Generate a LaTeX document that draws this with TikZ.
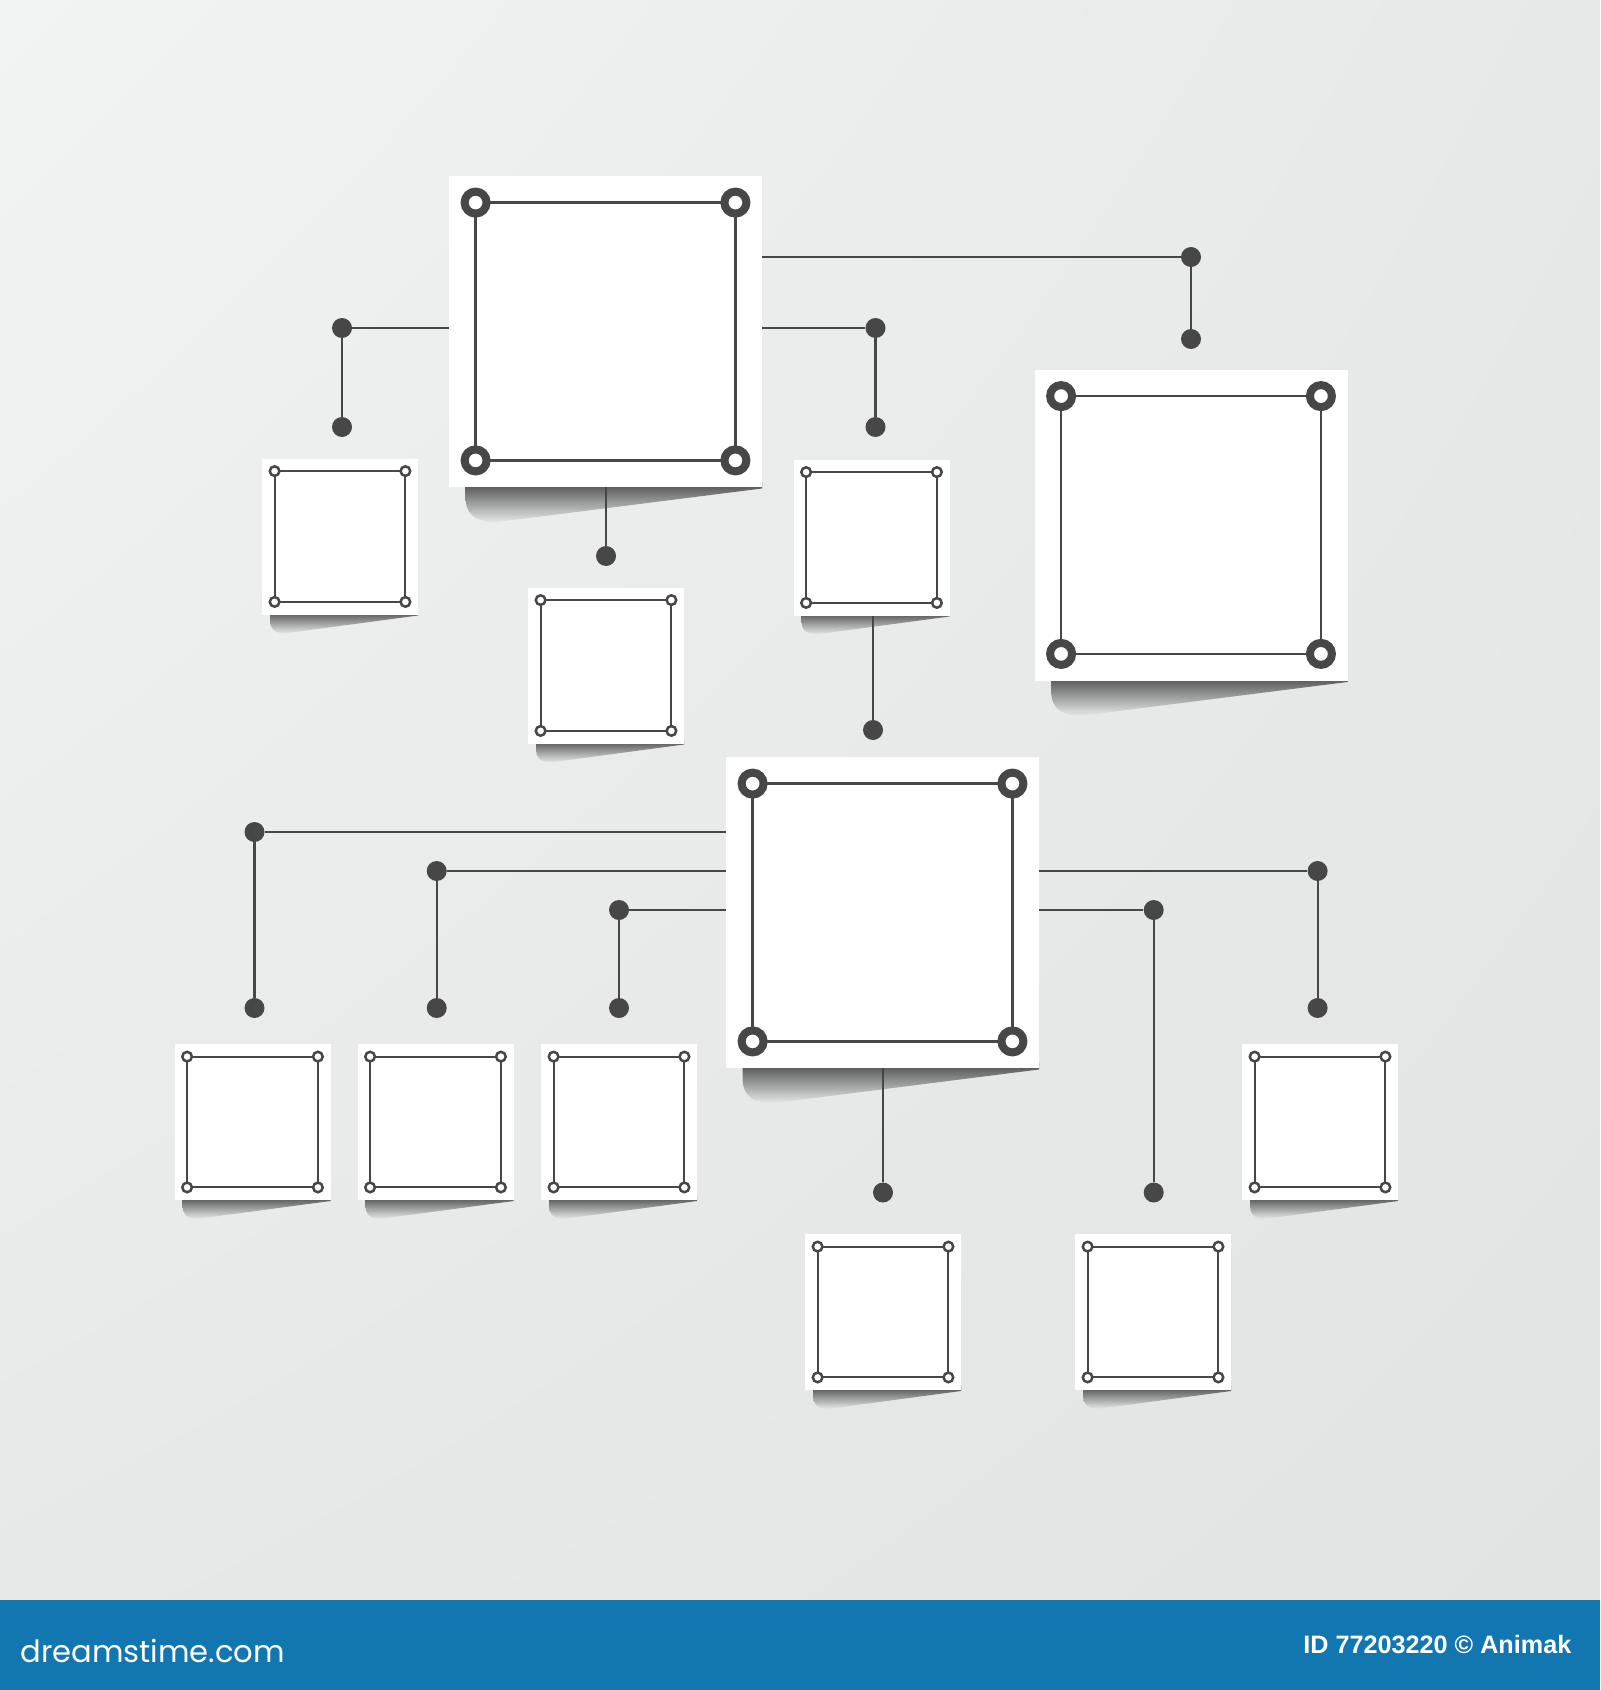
\documentclass[tikz,border=0pt]{standalone}
\usepackage{fontspec}
\usetikzlibrary{shadings}
\newfontfamily\barfont{Liberation Sans}
\newfontfamily\logofont{Poppins}
\definecolor{ink}{HTML}{474747}
\definecolor{bgA}{HTML}{F2F3F3}
\definecolor{bgB}{HTML}{E7E9E9}
\definecolor{bgC}{HTML}{E2E4E4}
\definecolor{shdc}{HTML}{4A4A4A}
\definecolor{barc}{HTML}{1277B0}
\tikzset{
  bigbox/.style={rectangle, fill=white, minimum width=156.5pt, minimum height=155.5pt, inner sep=0pt},
  smallbox/.style={rectangle, fill=white, minimum width=78pt, minimum height=78pt, inner sep=0pt},
  bigframe/.style={draw=ink, line width=1.2pt},
  smallframe/.style={draw=ink, line width=1pt},
  bigring/.style={draw=ink, fill=white, line width=4pt},
  smallring/.style={draw=ink, fill=white, line width=1.25pt},
  dot/.style={circle, fill=ink, inner sep=0pt, minimum size=10pt},
  conn/.style={draw=ink, line width=1.1pt},
}
\newcommand\BigBox[3]{%
  \begin{scope}[shift={(#2,#3)}]
    \shade[top color=shdc, bottom color=bgB] (-140,150) -- (156.5,150) -- (156.5,157) -- (-112,191) .. controls (-134,189) and (-140,180) .. (-140,165) -- cycle;
  \end{scope}
  \node[bigbox] (#1) at (#2,#3) {};
  \draw[bigframe] ([shift={(27,27)}]#1.north west) rectangle ([shift={(-27,-27)}]#1.south east);
  \foreach \a/\sx/\sy in {north west/27/27, north east/-27/27, south west/27/-27, south east/-27/-27}
    \draw[bigring] ([shift={(\sx,\sy)}]#1.\a) circle[radius=5.5pt];
}
\newcommand\SmallBox[3]{%
  \begin{scope}[shift={(#2,#3)}]
    \shade[top color=shdc, bottom color=bgB] (-70,74) -- (78,74) -- (78,79) -- (-56,97) .. controls (-67,96) and (-70,91) .. (-70,84) -- cycle;
  \end{scope}
  \node[smallbox] (#1) at (#2,#3) {};
  \draw[smallframe] ([shift={(13,13)}]#1.north west) rectangle ([shift={(-13,-13)}]#1.south east);
  \foreach \a/\sx/\sy in {north west/13/13, north east/-13/13, south west/13/-13, south east/-13/-13}
    \draw[smallring] ([shift={(\sx,\sy)}]#1.\a) circle[radius=2.4pt];
}
\begin{document}
\begin{tikzpicture}[x=0.5pt,y=-0.5pt]
\useasboundingbox (0,0) rectangle (1600,1690);
\shade[upper left=bgA, upper right=bgB, lower left=bgB, lower right=bgC] (0,0) rectangle (1600,1600);
\fill[barc] (0,1600) rectangle (1600,1690);
\node[anchor=base west, text=white, inner sep=0pt, font=\logofont\fontsize{15.3}{17}\selectfont] (logo) at (20,1662) {dreamstime.com};
\node[anchor=base west, text=white, inner sep=0pt, font=\barfont\bfseries\fontsize{12.6}{14}\selectfont] (credit) at (1303,1653) {ID 77203220 \textcopyright{} Animak};

% boxes
\BigBox{B1}{605.5}{331.5}
\BigBox{B2}{1191}{525}
\BigBox{B3}{882.5}{912.5}
\SmallBox{SA}{340}{536.5}
\SmallBox{SB}{606}{665.5}
\SmallBox{SC}{871.5}{537.5}
\SmallBox{R1}{252.5}{1122}
\SmallBox{R2}{435.5}{1122}
\SmallBox{R3}{619}{1122}
\SmallBox{R4}{1320}{1122}
\SmallBox{L1}{883}{1312}
\SmallBox{L2}{1153}{1312}

% junction dots
\node[dot] (j1) at (1191,257) {};
\node[dot] (j1e) at (1191,339) {};
\node[dot] (j2) at (342,328) {};
\node[dot] (j2e) at (342,427) {};
\node[dot] (j3) at (875.5,328) {};
\node[dot] (j3e) at (875.5,427) {};
\node[dot] (j4) at (606,556) {};
\node[dot] (j5) at (873,730) {};
\node[dot] (j6) at (254.5,832) {};
\node[dot] (j6e) at (254.5,1008) {};
\node[dot] (j7) at (436.7,871) {};
\node[dot] (j7e) at (436.7,1008) {};
\node[dot] (j8) at (619,910) {};
\node[dot] (j8e) at (619,1008) {};
\node[dot] (j9) at (1317.6,871) {};
\node[dot] (j9e) at (1317.6,1008) {};
\node[dot] (j10) at (1153.7,910) {};
\node[dot] (j10e) at (1153.7,1192.5) {};
\node[dot] (j11) at (883,1192.5) {};

% connectors
\draw[conn] (B1.east |- j1) -- (j1) -- (j1e);
\draw[conn] (B1.west |- j2) -- (j2) -- (j2e);
\draw[conn] (B1.east |- j3) -- (j3) -- (j3e);
\draw[conn] (B1.south -| j4) -- (j4);
\draw[conn] (SC.south -| j5) -- (j5);
\draw[conn] (B3.west |- j6) -- (j6) -- (j6e);
\draw[conn] (B3.west |- j7) -- (j7) -- (j7e);
\draw[conn] (B3.west |- j8) -- (j8) -- (j8e);
\draw[conn] (B3.east |- j9) -- (j9) -- (j9e);
\draw[conn] (B3.east |- j10) -- (j10) -- (j10e);
\draw[conn] (B3.south -| j11) -- (j11);
\end{tikzpicture}
\end{document}
